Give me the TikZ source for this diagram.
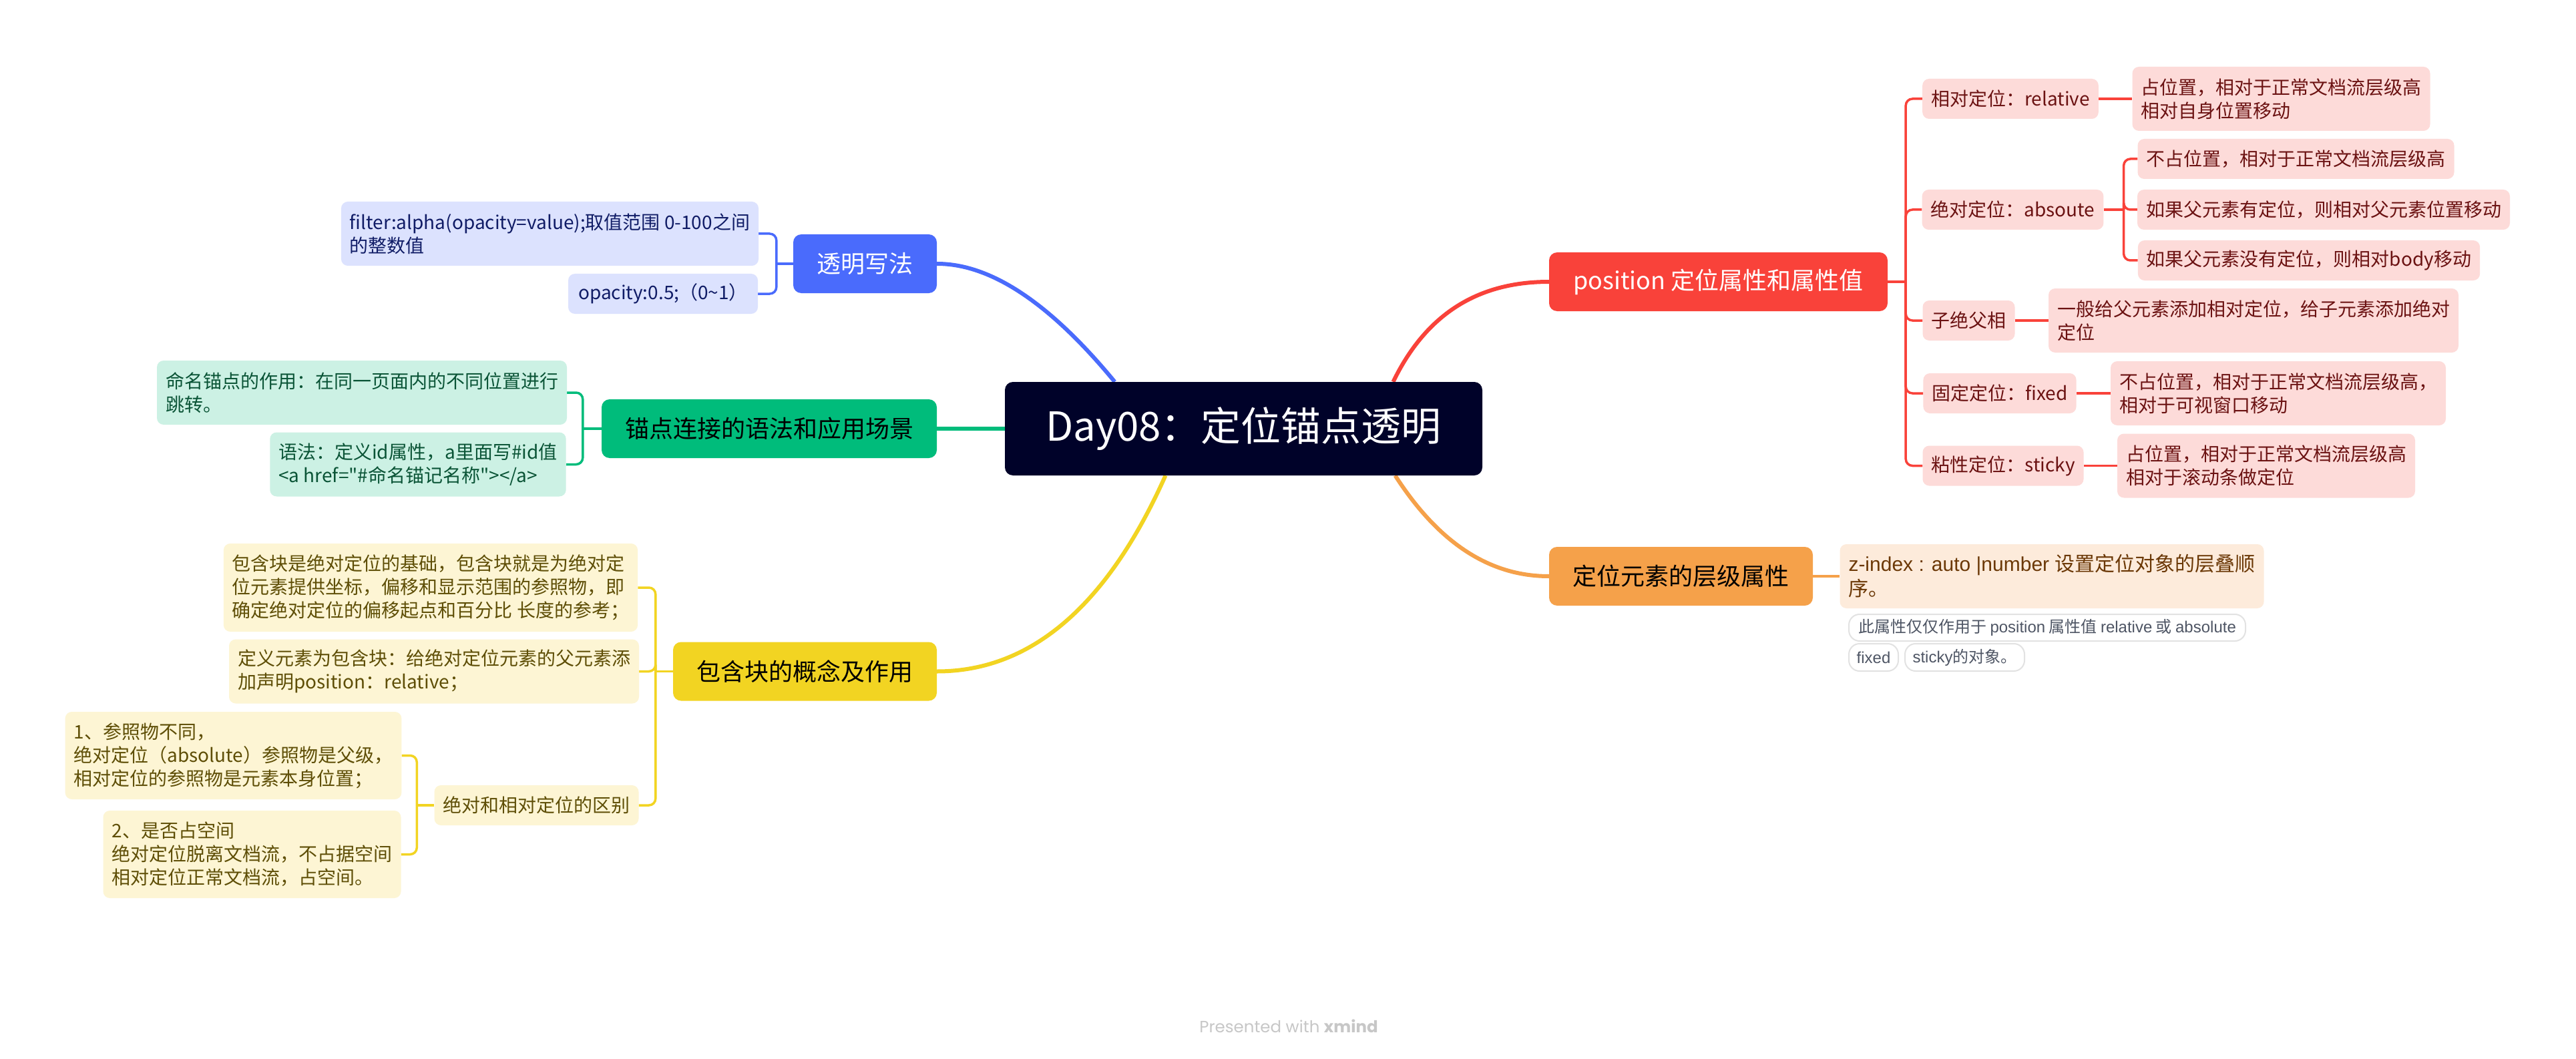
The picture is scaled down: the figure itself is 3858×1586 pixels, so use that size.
\documentclass[tikz,border=0pt]{standalone}
\usepackage{fontspec}
\setmainfont{Noto Sans CJK SC}
\newfontfamily\cjkraw{Noto Sans CJK SC}
\newfontfamily\lat{Liberation Sans}
\newfontfamily\pop{Poppins}
\usetikzlibrary{calc}
\definecolor{cnav}{HTML}{000229}
\definecolor{cred}{HTML}{F9423A}
\definecolor{redl}{HTML}{FDDBD9}
\definecolor{redt}{HTML}{6B1212}
\definecolor{cblue}{HTML}{4A6BFC}
\definecolor{bluel}{HTML}{DCE2FE}
\definecolor{bluet}{HTML}{101C66}
\definecolor{cgreen}{HTML}{00BC7B}
\definecolor{greenl}{HTML}{CCF1E4}
\definecolor{greent}{HTML}{0A5436}
\definecolor{cyellow}{HTML}{F2D422}
\definecolor{yell}{HTML}{FDF5D4}
\definecolor{yelt}{HTML}{5E4E06}
\definecolor{corange}{HTML}{F5A14A}
\definecolor{orl}{HTML}{FDEBDB}
\definecolor{ort}{HTML}{6B3806}
\definecolor{notet}{HTML}{4E5564}
\definecolor{noteb}{HTML}{E2E2E2}
\pgfdeclarelayer{back}
\pgfdeclarelayer{bg}
\pgfsetlayers{back,bg,main}
\tikzset{
  box/.style={rounded corners=10pt, align=left, inner xsep=13pt, inner ysep=0pt},
  sz/.style 2 args={minimum width=#1pt, minimum height=#2pt},
  maintopic/.style={box, rounded corners=12pt, font=\fontsize{36}{44}\selectfont},
  subtopic/.style={box, font=\fontsize{28}{35}\selectfont},
  rsub/.style={subtopic, fill=redl, text=redt},
  bsub/.style={subtopic, fill=bluel, text=bluet},
  gsub/.style={subtopic, fill=greenl, text=greent},
  ysub/.style={subtopic, fill=yell, text=yelt},
  notebox/.style={box, rounded corners=16pt, draw=noteb, line width=2pt, fill=white, text=notet, inner xsep=11pt, font=\fontsize{24}{30}\selectfont},
  branch/.style={line width=6pt},
  twig/.style={line width=3.5pt, rounded corners=10pt},
}
\begin{document}
\begin{tikzpicture}[x=1pt,y=-1pt, every node/.style={inner sep=0pt}]
\begin{pgfonlayer}{back}
\fill[white] (0,0) rectangle (3858,1586);
\end{pgfonlayer}
\useasboundingbox (0,0) rectangle (3858,1586);

% central
\node[box, rounded corners=12pt, fill=cnav, text=white, align=center, font=\fontsize{60}{72}\selectfont, sz={715}{140}] (c) at (1862.5,642) {Day08：定位锚点透明};

% main topics
\node[maintopic, fill=cred, text=white, sz={507}{88}] (pos) at (2573.5,422) {position 定位属性和属性值};
\node[maintopic, fill=corange, text=black, sz={395}{88}] (ord) at (2517.5,863) {定位元素的层级属性};
\node[maintopic, fill=cblue, text=white, sz={215}{88}] (tm) at (1295.5,395) {透明写法};
\node[maintopic, fill=cgreen, text=black, sz={502}{88}] (mj) at (1152,642) {锚点连接的语法和应用场景};
\node[maintopic, fill=cyellow, text=black, sz={395}{88}] (bh) at (1205.5,1005.5) {包含块的概念及作用};

% red subtopics
\node[rsub, sz={260}{60}] (r1) at (3011,148) {相对定位：relative};
\node[rsub, sz={443}{96}] (r1a) at (3416.5,148) {占位置，相对于正常文档流层级高\\相对自身位置移动};
\node[rsub, sz={267}{60}] (r2) at (3014.5,314) {绝对定位：absoute};
\node[rsub, sz={471}{60}] (r2a) at (3438.5,238) {不占位置，相对于正常文档流层级高};
\node[rsub, sz={554}{60}] (r2b) at (3480,314) {如果父元素有定位，则相对父元素位置移动};
\node[rsub, sz={510}{60}] (r2c) at (3458,390) {如果父元素没有定位，则相对body移动};
\node[rsub, sz={135}{60}] (r3) at (2948.5,480) {子绝父相};
\node[rsub, sz={610}{96}] (r3a) at (3375,480) {一般给父元素添加相对定位，给子元素添加绝对\\定位};
\node[rsub, sz={226}{60}] (r4) at (2995,589) {固定定位：fixed};
\node[rsub, sz={498}{96}] (r4a) at (3412,589) {不占位置，相对于正常文档流层级高，\\相对于可视窗口移动};
\node[rsub, sz={236}{60}] (r5) at (3000,697.5) {粘性定位：sticky};
\node[rsub, sz={444}{96}] (r5a) at (3394,697.5) {占位置，相对于正常文档流层级高\\相对于滚动条做定位};

% orange
\node[box, fill=orl, text=ort, font=\fontsize{30}{37}\selectfont, sz={608}{96}] (o1) at (3073,863) {{\lat z-index : auto |number }设置定位对象的层叠顺\\序。};
\node[notebox, sz={594}{40}] (n1) at (3066,940) {此属性仅仅作用于 {\lat position} 属性值 {\lat relative} 或 {\lat absolute}};
\node[notebox, sz={74}{41}] (n2) at (2806,984.5) {\lat fixed};
\node[notebox, sz={179}{41}] (n3) at (2942.5,984.5) {{\lat sticky}的对象。};

% blue
\node[bsub, sz={623}{96}] (b1) at (823.5,350) {filter:alpha(opacity=value);取值范围 0-100之间\\的整数值};
\node[bsub, sz={284}{60}] (b2) at (993,440) {opacity:0.5;（0\textasciitilde 1）};

% green
\node[gsub, sz={610}{96}] (g1) at (542,588) {命名锚点的作用：在同一页面内的不同位置进行\\跳转。};
\node[gsub, sz={442}{96}] (g2) at (626,695.5) {语法：定义id属性，a里面写\#id值\\{\cjkraw <a href="\#命名锚记名称"></a>}};

% yellow
\node[ysub, sz={620}{132}] (y1) at (645,880) {包含块是绝对定位的基础，包含块就是为绝对定\\位元素提供坐标，偏移和显示范围的参照物，即\\确定绝对定位的偏移起点和百分比 长度的参考；};
\node[ysub, sz={610}{96}] (y2) at (650,1005.5) {定义元素为包含块：给绝对定位元素的父元素添\\加声明position：relative；};
\node[ysub, sz={301}{60}] (y3) at (803.5,1206) {绝对和相对定位的区别};
\node[ysub, sz={497}{131}] (y3a) at (349.5,1131.5) {1、参照物不同，\\绝对定位（absolute）参照物是父级，\\相对定位的参照物是元素本身位置；};
\node[ysub, sz={441}{131}] (y3b) at (377.5,1279.5) {2、是否占空间\\绝对定位脱离文档流，不占据空间\\相对定位正常文档流，占空间。};

% footer
\node[text=black!22, font=\pop\fontsize{24.5}{28}\selectfont] (ft) at (1930,1537) {Presented with \textbf{xmind}};

\begin{pgfonlayer}{bg}
% main branches
\draw[branch, cred] ([xshift=224pt]c.north) .. controls +(49,-101) and +(-107,0) .. (pos.west);
\draw[branch, corange] ([xshift=227pt]c.south) .. controls +(65,101) and +(-89,0) .. (ord.west);
\draw[branch, cblue] ([xshift=-193pt]c.north) .. controls +(-98,-119) and +(80,0) .. (tm.east);
\draw[branch, cyellow] ([xshift=-117pt]c.south) .. controls +(-87,195) and +(141,0) .. (bh.east);
\draw[branch, cgreen] (c.west) -- (mj.east);

% red twigs
\draw[twig, cred] (pos.east) -- ++(27,0) coordinate (pt);
\foreach \n in {r1,r2,r3,r4,r5} \draw[twig, cred] (pt) |- (\n.west);
\draw[twig, cred] (r1.east) -- (r1a.west);
\draw[twig, cred] (r2.east) -- ++(30,0) coordinate (pt2);
\foreach \n in {r2a,r2b,r2c} \draw[twig, cred] (pt2) |- (\n.west);
\draw[twig, cred] (r3.east) -- (r3a.west);
\draw[twig, cred] (r4.east) -- (r4a.west);
\draw[twig, cred] (r5.east) -- (r5a.west);

% orange twig
\draw[twig, corange] (ord.east) -- (o1.west);

% blue twigs
\draw[twig, cblue] (tm.west) -- ++(-25,0) coordinate (pb);
\foreach \n in {b1,b2} \draw[twig, cblue] (pb) |- (\n.east);

% green twigs
\draw[twig, cgreen] (mj.west) -- ++(-28,0) coordinate (pg);
\foreach \n in {g1,g2} \draw[twig, cgreen] (pg) |- (\n.east);

% yellow twigs
\draw[twig, cyellow] (bh.west) -- ++(-26,0) coordinate (py);
\foreach \n in {y1,y2,y3} \draw[twig, cyellow] (py) |- (\n.east);
\draw[twig, cyellow] (y3.west) -- ++(-26,0) coordinate (py3);
\foreach \n in {y3a,y3b} \draw[twig, cyellow] (py3) |- (\n.east);
\end{pgfonlayer}
\end{tikzpicture}
\end{document}
